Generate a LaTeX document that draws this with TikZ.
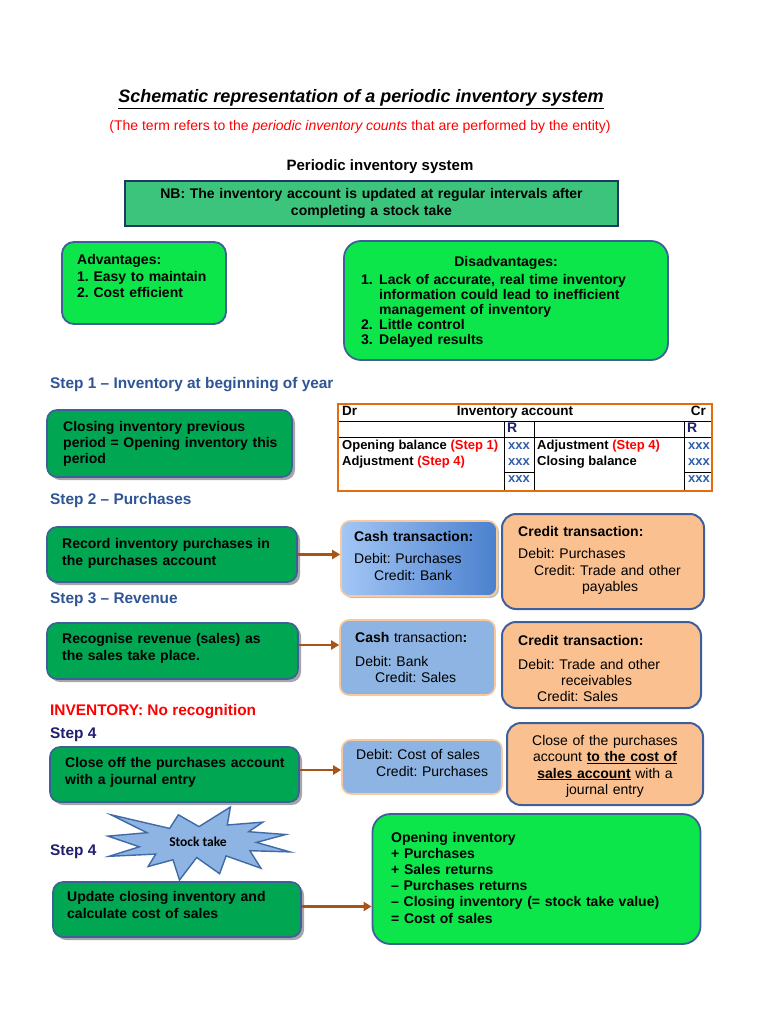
\documentclass[tikz,border=0pt]{standalone}
\usepackage{fontspec}
\setmainfont{Liberation Sans}
\newfontfamily\calibri{Carlito}
\usetikzlibrary{shadows,arrows.meta}
\definecolor{bgreen}{HTML}{0DE64B}
\definecolor{dgreen}{HTML}{00A651}
\definecolor{nbgreen}{HTML}{3DC47C}
\definecolor{nbborder}{HTML}{1F3864}
\definecolor{bord}{HTML}{3F5F9B}
\definecolor{peach}{HTML}{FAC08F}
\definecolor{peachb}{HTML}{F9C89B}
\definecolor{lblue}{HTML}{8DB4E2}
\definecolor{cashA}{HTML}{A3C6F5}
\definecolor{cashB}{HTML}{4A80CD}
\definecolor{arrbrown}{HTML}{A85418}
\definecolor{stepblue}{HTML}{2F5597}
\definecolor{stepnavy}{HTML}{1F1F6E}
\definecolor{xblue}{HTML}{2E5EAA}
\definecolor{tborder}{HTML}{E46C0A}
\definecolor{starb}{HTML}{3F6AA8}
\definecolor{myred}{HTML}{FF0000}
\begin{document}
\frenchspacing
\begin{tikzpicture}[x=1pt,y=-1pt,
  sz/.style 2 args={minimum width=#1pt, minimum height=#2pt, inner sep=0pt},
  gbox/.style={draw=bord, line width=1.8pt, fill=bgreen},
  dbox/.style={draw=bord, line width=1.6pt, fill=dgreen, rounded corners=10pt,
     drop shadow={shadow xshift=3pt, shadow yshift=-3pt, fill=black, opacity=0.35}},
  pbox/.style={draw=bord, line width=2pt, fill=peach, rounded corners=14pt},
  cbox/.style={draw=peachb, line width=1.6pt, fill=lblue, rounded corners=9pt},
  tx/.style={inner sep=0pt, anchor=base west, align=left, text width=340pt,
     font=\fontsize{14}{16.5}\selectfont},
  txb/.style={tx, font=\fontsize{14}{16.5}\selectfont\bfseries},
  tt/.style={inner sep=0pt, anchor=base west, font=\fontsize{13}{15}\selectfont\bfseries},
  steplab/.style={inner sep=0pt, anchor=base west, font=\fontsize{15.4}{17}\selectfont\bfseries, text=stepblue},
  arr/.style={draw=arrbrown, line width=2.2pt, -{Triangle[length=8pt,width=9pt]}}
]
\useasboundingbox[fill=white] (0,0) rectangle (768,1024);

% title
\node[anchor=base, inner sep=0pt, font=\fontsize{18}{20}\selectfont\bfseries\itshape] (title) at (361,103)
  {\underline{Schematic representation of a periodic inventory system}};
\node[anchor=base, inner sep=0pt, font=\fontsize{14}{16}\selectfont, text=myred] (sub) at (360,131)
  {(The term refers to the \textit{periodic inventory counts} that are performed by the entity)};
\node[anchor=base, inner sep=0pt, font=\fontsize{15}{17}\selectfont\bfseries] (pis) at (380,171)
  {Periodic inventory system};

% NB box
\node[sz={493}{45}, draw=nbborder, line width=2.6pt, fill=nbgreen] (nb) at (371.5,203.5) {};
\node[txb, anchor=base, text width=480pt, align=center] (nbt) at (371.5,199)
  {NB: The inventory account is updated at regular intervals after\\completing a stock take};

% advantages / disadvantages
\node[sz={164}{82}, gbox, rounded corners=12pt] (adv) at (144,283) {};
\node[txb] (advt) at (77,264.5) {Advantages:\\1. Easy to maintain\\2. Cost efficient};
\node[sz={324}{119}, gbox, rounded corners=17pt] (dis) at (506,300.5) {};
\node[txb, anchor=base, text width=200pt, align=center] (dist) at (506,266.5) {Disadvantages:};
\node[tx, font=\fontsize{14}{15.2}\selectfont\bfseries] (disl) at (361,284)
  {\makebox[18pt][l]{1.}Lack of accurate, real time inventory\\
   \hspace*{18pt}information could lead to inefficient\\
   \hspace*{18pt}management of inventory\\
   \makebox[18pt][l]{2.}Little control\\
   \makebox[18pt][l]{3.}Delayed results};

% step 1
\node[steplab] (s1) at (50,388.5) {Step 1 – Inventory at beginning of year};
\node[sz={245}{67}, dbox] (cl) at (169.5,443.5) {};
\node[txb, font=\fontsize{14}{16}\selectfont\bfseries] (clt) at (63,431)
  {Closing inventory previous\\period = Opening inventory this\\period};

% table
\draw[line width=0.8pt] (338,421) -- (712,421);
\draw[line width=0.8pt] (338,437) -- (712,437);
\draw[line width=0.8pt] (504,421) -- (504,491);
\draw[line width=0.8pt] (534,421) -- (534,491);
\draw[line width=0.8pt] (684,421) -- (684,491);
\draw[line width=0.8pt] (504,472) -- (534,472);
\draw[line width=0.8pt] (684,472) -- (712,472);
\draw[draw=tborder, line width=2.4pt] (338,404) rectangle (712,491);
\node[tt, font=\fontsize{13.5}{15}\selectfont\bfseries] (dr) at (342,415.5) {Dr};
\node[tt, font=\fontsize{13.5}{15}\selectfont\bfseries, anchor=base] (ia) at (515,415.5) {Inventory account};
\node[tt, font=\fontsize{13.5}{15}\selectfont\bfseries, anchor=base east] (cr) at (706,415.5) {Cr};
\node[tt, font=\fontsize{14}{15}\selectfont\bfseries, text=stepnavy] (r1) at (507,432.5) {R};
\node[tt, font=\fontsize{14}{15}\selectfont\bfseries, text=stepnavy] (r2) at (687,432.5) {R};
\node[tt] (ob) at (342,449) {Opening balance \textcolor{myred}{(Step 1)}};
\node[tt] (adj1) at (342,465) {Adjustment \textcolor{myred}{(Step 4)}};
\node[tt] (adj2) at (537,449) {Adjustment \textcolor{myred}{(Step 4)}};
\node[tt] (cb) at (537,465) {Closing balance};
\node[tt, text=xblue] (x1) at (508,449) {xxx};
\node[tt, text=xblue] (x2) at (508,465) {xxx};
\node[tt, text=xblue] (x3) at (508,482) {xxx};
\node[tt, text=xblue] (x4) at (688,449) {xxx};
\node[tt, text=xblue] (x5) at (688,465) {xxx};
\node[tt, text=xblue] (x6) at (688,482) {xxx};

% step 2
\node[steplab] (s2) at (50,504) {Step 2 – Purchases};
\node[sz={250}{55}, dbox] (rec) at (172,554.5) {};
\node[txb] (rect) at (62,548.5) {Record inventory purchases in\\the purchases account};
\node[sz={156}{75}, draw=peachb, line width=1.6pt, rounded corners=9pt, left color=cashA, right color=cashB,
   drop shadow={shadow xshift=2pt, shadow yshift=-2pt, fill=black, opacity=0.25}] (cash1) at (419,558.5) {};
\node[tx] (cash1t) at (354,541) {\textbf{Cash transaction:}\\[6pt]Debit: Purchases\\\hspace*{20pt}Credit: Bank};
\node[sz={202}{95}, pbox] (cred1) at (603,561.5) {};
\node[tx] (cred1t) at (518,536) {\textbf{Credit transaction:}\\[6pt]Debit: Purchases\\\hspace*{16pt}Credit: Trade and other\\\hspace*{64pt}payables};
\draw[arr] (rec.east) -- (rec.east -| cash1.west);

% step 3
\node[steplab] (s3) at (50,603) {Step 3 – Revenue};
\node[sz={251}{56}, dbox] (recog) at (172.5,651) {};
\node[txb] (recogt) at (62,643.5) {Recognise revenue (sales) as\\the sales take place.};
\node[sz={155}{75}, cbox] (cash2) at (417.5,657.5) {};
\node[tx, font=\fontsize{14}{16}\selectfont] (cash2t) at (355,642) {\textbf{Cash} transaction\textbf{:}\\[8pt]Debit: Bank\\\hspace*{20pt}Credit: Sales};
\node[sz={199}{86}, pbox] (cred2) at (601.5,665) {};
\node[tx, font=\fontsize{14}{16}\selectfont] (cred2t) at (518,645) {\textbf{Credit transaction:}\\[8pt]Debit: Trade and other\\\hspace*{43pt}receivables\\\hspace*{19pt}Credit: Sales};
\draw[arr] ([yshift=6pt]recog.east) -- ([yshift=6pt]recog.east -| cash2.west);

% inventory / step 4
\node[steplab, text=myred] (inv) at (50,715) {INVENTORY: No recognition};
\node[steplab, text=stepnavy] (s4a) at (50,738) {Step 4};
\node[sz={249}{55}, dbox] (clo) at (174.5,774.5) {};
\node[txb] (clot) at (65,767.5) {Close off the purchases account\\with a journal entry};
\node[sz={160}{54}, cbox] (deb) at (422,767) {};
\node[tx] (debt) at (356,759.5) {Debit: Cost of sales\\\hspace*{20pt}Credit: Purchases};
\node[sz={196}{82}, pbox] (cof) at (605,764) {};
\node[tx, anchor=base, text width=190pt, align=center] (coft) at (605,745)
  {Close of the purchases\\account \textbf{\underline{to the cost of}}\\\textbf{\underline{sales account}} with a\\journal entry};
\draw[arr] ([yshift=4.5pt]clo.east) -- ([yshift=4.5pt]clo.east -| deb.west);

% step 4 second: explosion shape
\draw[fill=lblue, draw=starb, line width=1.4pt, line join=miter]
  (199.0,826.6) -- (230.4,807.0) -- (227.3,825.0) -- (262.9,822.1) -- (248.7,831.7) --
  (285.8,834.5) -- (256.4,842.4) -- (290.0,851.9) -- (249.9,850.7) -- (260.9,868.2) --
  (226.1,855.9) -- (219.6,873.7) -- (196.7,857.5) -- (179.5,880.0) -- (173.0,859.8) --
  (148.1,866.5) -- (155.7,854.1) -- (109.1,856.3) -- (139.4,846.8) -- (108.0,836.1) --
  (147.0,832.7) -- (111.1,814.8) -- (169.6,828.4) -- (178.4,814.8) -- cycle;
\node[inner sep=0pt, font=\calibri\fontsize{13.5}{15}\selectfont\bfseries] (star) at (198,842) {Stock take};
\node[steplab, text=stepnavy] (s4b) at (50,855.5) {Step 4};
\node[sz={248}{55}, dbox] (upd) at (177,909.5) {};
\node[txb] (updt) at (67,901.5) {Update closing inventory and\\calculate cost of sales};
\node[sz={328}{130}, gbox, rounded corners=18pt] (fin) at (536.5,879) {};
\node[txb, font=\fontsize{14}{16.2}\selectfont\bfseries] (fint) at (391,842)
  {Opening inventory\\+ Purchases\\+ Sales returns\\– Purchases returns\\– Closing inventory (= stock take value)\\= Cost of sales};
\draw[arr] ([yshift=3pt]upd.east) -- ([yshift=3pt]upd.east -| fin.west);
\end{tikzpicture}
\end{document}
